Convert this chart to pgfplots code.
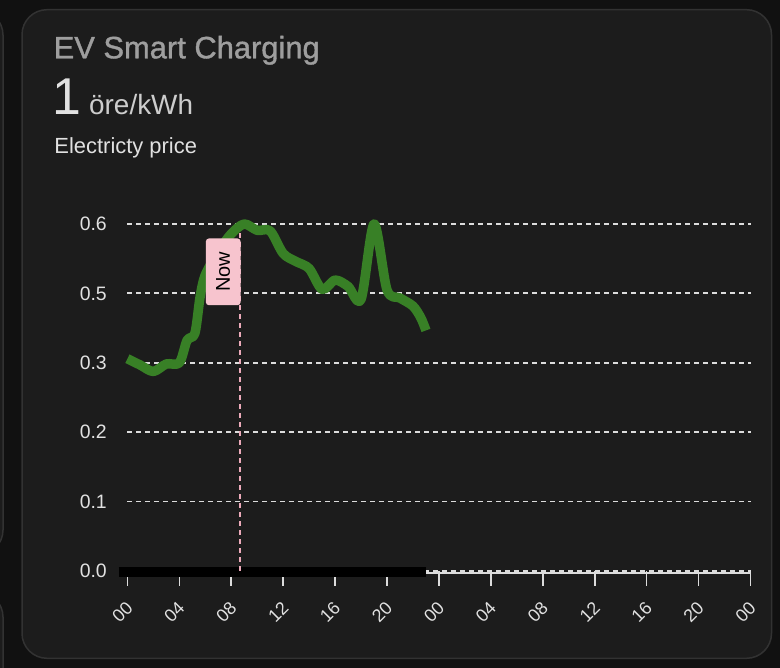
\documentclass[border=0pt]{standalone}
\usepackage{pgfplots}
\pgfplotsset{compat=1.18}
\usepackage{fontspec}
\setmainfont{Liberation Sans}
\newfontfamily\titlefont[FakeBold=1.2]{Liberation Sans}
\definecolor{outerbg}{RGB}{17,17,17}
\definecolor{cardbg}{RGB}{28,28,28}
\definecolor{cardborder}{RGB}{50,50,50}
\definecolor{titlegray}{RGB}{158,158,158}
\definecolor{txt}{RGB}{225,225,225}
\definecolor{subtxt}{RGB}{205,205,205}
\definecolor{evgreen}{RGB}{56,128,38}
\definecolor{nowpink}{RGB}{247,196,206}
\definecolor{nowline}{RGB}{236,170,186}
\definecolor{gridc}{RGB}{220,220,220}
\begin{document}
\begin{tikzpicture}[x=1bp,y=1bp]
\fill[outerbg] (0,0) rectangle (780,668);
\draw[cardborder, fill=cardbg, line width=1.5bp, rounded corners=25bp] (-60,113) rectangle (3,658);
\draw[cardborder, fill=cardbg, line width=1.5bp, rounded corners=25bp] (-60,-60) rectangle (3,76);
\draw[cardborder, fill=cardbg, line width=1.5bp, rounded corners=25bp] (22,9.7) rectangle (771.5,658.3);
\node[anchor=base west, inner sep=0pt, text=titlegray, font=\titlefont\fontsize{31}{33}\selectfont] at (53.5,609.7) {EV Smart Charging};
\node[anchor=base west, inner sep=0pt, text=txt, font=\fontsize{52}{54}\selectfont] at (52.5,553) {1};
\node[anchor=base west, inner sep=0pt, text=subtxt, font=\fontsize{28}{30}\selectfont] at (89,553) {öre/kWh};
\node[anchor=base west, inner sep=0pt, text=txt, font=\fontsize{22}{24}\selectfont] at (54.3,514.7) {Electricty price};
\begin{axis}[
  at={(127.4bp,97bp)}, anchor=south west, scale only axis,
  width=623.1bp, height=347bp,
  xmin=0, xmax=48, ymin=0, ymax=0.6, clip=false,
  axis line style={draw=none},
  xtick={0,4,...,48},
  xticklabels={00,04,08,12,16,20,00,04,08,12,16,20,00},
  ytick={0,0.12,0.24,0.36,0.48,0.6},
  yticklabels={0.0,0.1,0.2,0.3,0.5,0.6},
  ymajorgrids,
  grid style={gridc, line width=1.8bp, dash pattern=on 5bp off 4bp},
  xtick pos=bottom, ytick style={draw=none},
  xtick style={gridc, line width=1.6bp},
  xtick align=outside, major tick length=15bp,
  yticklabel style={font=\fontsize{19.5}{20}\selectfont, text=txt, anchor=east, inner sep=0pt, xshift=-20.4bp},
  xticklabel style={font=\fontsize{18}{19}\selectfont, text=txt, inner sep=0pt, xshift=-5bp, rotate=45, anchor=center},
  xticklabel shift=26.5bp,
]
\addplot[gridc, line width=1.8bp] coordinates {(0,-0.0035) (48,-0.0035)};
\addplot[black, line width=9.4bp, line cap=butt] coordinates {(-0.68,-0.0017) (23.02,-0.0017)};
\addplot[draw=nowline, line width=2bp, dash pattern=on 5bp off 4bp] coordinates {(8.64,0) (8.64,0.6)};
\addplot[evgreen, line width=9.5bp, smooth, tension=0.5, line join=round, line cap=butt] coordinates {
(0.0,0.367) (1.0,0.356) (2.0,0.345) (3.0,0.358) (4.0,0.360) (4.6,0.399) (5.2,0.411) (5.6,0.474)
(6.0,0.512) (7.0,0.552) (8.0,0.583) (9.0,0.600) (10.0,0.589) (11.0,0.588) (12.0,0.549)
(13.0,0.535) (14.0,0.523) (15.0,0.487) (16.0,0.503) (17.0,0.492) (18.0,0.470) (19.0,0.600)
(20.0,0.486) (21.0,0.472) (22.0,0.458) (22.6,0.438) (23.0,0.416)};
\node[rotate=90, anchor=south east, fill=nowpink, rounded corners=3bp, minimum width=66.7bp, minimum height=34.7bp, inner sep=0pt, text=black, font=\fontsize{20}{22}\selectfont] at ([xshift=1.2bp,yshift=-14.3bp]axis cs:8.64,0.6) {Now};
\end{axis}
\pgfresetboundingbox
\path (0,0) rectangle (780,668);
\end{tikzpicture}
\end{document}
